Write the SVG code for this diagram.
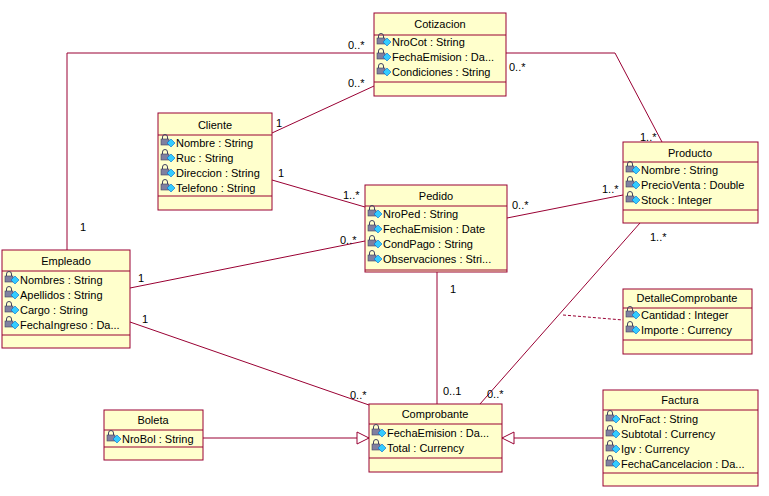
<svg xmlns="http://www.w3.org/2000/svg" width="769" height="496" viewBox="0 0 769 496">
<style>
.b{fill:#ffffcc;stroke:#990033;stroke-width:1}
.t{font-family:"Liberation Sans",Arial,sans-serif;font-size:11px;fill:#000}
.c{text-anchor:middle}
.l{stroke:#990033;fill:none;stroke-width:1}
</style>
<defs>
<g id="i"><rect x="0" y="-8" width="8" height="6" fill="#8080a0" stroke="#404060" stroke-width="0.6"/><path d="M1.5,-8v-2a2.5,2.5 0 0 1 5,0v2" fill="none" stroke="#404060"/><path d="M10,-8l4,4l-4,4l-4,-4z" fill="#33ccff" stroke="#0066cc" stroke-width="0.6"/></g>
<marker id="g" markerWidth="14" markerHeight="14" refX="13" refY="7" orient="auto" markerUnits="userSpaceOnUse"><path d="M1,1L13,7L1,13z" fill="#fff" stroke="#990033"/></marker>
</defs>
<rect width="769" height="496" fill="#fff"/>
<g id="connectors">
<polyline class="l" points="67,250 67,53 374,53"/>
<line class="l" x1="272" y1="133" x2="374" y2="86"/>
<polyline class="l" points="506,53 615,53 662,142"/>
<line class="l" x1="272" y1="180" x2="365" y2="207"/>
<line class="l" x1="130" y1="288" x2="365" y2="241"/>
<line class="l" x1="507" y1="218" x2="623" y2="195"/>
<line class="l" x1="130" y1="322" x2="369" y2="405"/>
<line class="l" x1="437" y1="272" x2="437" y2="404"/>
<line class="l" x1="640" y1="223" x2="480" y2="404"/>
<line class="l" x1="563" y1="315" x2="623" y2="320" stroke-dasharray="3,2"/>
<line class="l" x1="203" y1="438" x2="369" y2="438" marker-end="url(#g)"/>
<line class="l" x1="603" y1="438" x2="502" y2="438" marker-end="url(#g)"/>
<g class="t">
<text x="80" y="231">1</text><text x="348" y="49">0..*</text>
<text x="276" y="127">1</text><text x="348" y="87">0..*</text>
<text x="509" y="71">0..*</text><text x="640" y="141">1..*</text>
<text x="278" y="177">1</text><text x="343" y="199">1..*</text>
<text x="138" y="282">1</text><text x="340" y="244">0..*</text>
<text x="512" y="209">0..*</text><text x="602" y="193">1..*</text>
<text x="142" y="323">1</text><text x="350" y="399">0..*</text>
<text x="450" y="293">1</text><text x="443" y="395">0..1</text>
<text x="650" y="241">1..*</text><text x="487" y="398">0..*</text>
</g>
</g>
<g id="Cotizacion"><rect class="b" x="374" y="13" width="132" height="83"/><line class="l" x1="374" y1="35" x2="506" y2="35"/><line class="l" x1="374" y1="82" x2="506" y2="82"/>
<text class="t c" x="440" y="28">Cotizacion</text>
<use href="#i" x="377" y="46"/><text class="t" x="392" y="46">NroCot : String</text>
<use href="#i" x="377" y="61"/><text class="t" x="392" y="61">FechaEmision : Da...</text>
<use href="#i" x="377" y="76"/><text class="t" x="392" y="76">Condiciones : String</text></g>
<g id="Cliente"><rect class="b" x="158" y="113" width="114" height="97"/><line class="l" x1="158" y1="135" x2="272" y2="135"/><line class="l" x1="158" y1="196" x2="272" y2="196"/>
<text class="t c" x="215" y="129">Cliente</text>
<use href="#i" x="161" y="147"/><text class="t" x="176" y="147">Nombre : String</text>
<use href="#i" x="161" y="162"/><text class="t" x="176" y="162">Ruc : String</text>
<use href="#i" x="161" y="177"/><text class="t" x="176" y="177">Direccion : String</text>
<use href="#i" x="161" y="192"/><text class="t" x="176" y="192">Telefono : String</text></g>
<g id="Pedido"><rect class="b" x="365" y="185" width="142" height="87"/><line class="l" x1="365" y1="206" x2="507" y2="206"/><line class="l" x1="365" y1="270" x2="507" y2="270"/>
<text class="t c" x="436" y="200">Pedido</text>
<use href="#i" x="368" y="218"/><text class="t" x="383" y="218">NroPed : String</text>
<use href="#i" x="368" y="233"/><text class="t" x="383" y="233">FechaEmision : Date</text>
<use href="#i" x="368" y="248"/><text class="t" x="383" y="248">CondPago : String</text>
<use href="#i" x="368" y="263"/><text class="t" x="383" y="263">Observaciones : Stri...</text></g>
<g id="Producto"><rect class="b" x="623" y="142" width="135" height="81"/><line class="l" x1="623" y1="162" x2="758" y2="162"/><line class="l" x1="623" y1="210" x2="758" y2="210"/>
<text class="t c" x="690" y="157">Producto</text>
<use href="#i" x="626" y="174"/><text class="t" x="641" y="174">Nombre : String</text>
<use href="#i" x="626" y="189"/><text class="t" x="641" y="189">PrecioVenta : Double</text>
<use href="#i" x="626" y="204"/><text class="t" x="641" y="204">Stock : Integer</text></g>
<g id="Empleado"><rect class="b" x="2" y="250" width="128" height="98"/><line class="l" x1="2" y1="271" x2="130" y2="271"/><line class="l" x1="2" y1="335" x2="130" y2="335"/>
<text class="t c" x="66" y="265">Empleado</text>
<use href="#i" x="5" y="284"/><text class="t" x="20" y="284">Nombres : String</text>
<use href="#i" x="5" y="299"/><text class="t" x="20" y="299">Apellidos : String</text>
<use href="#i" x="5" y="314"/><text class="t" x="20" y="314">Cargo : String</text>
<use href="#i" x="5" y="329"/><text class="t" x="20" y="329">FechaIngreso : Da...</text></g>
<g id="DetalleComprobante"><rect class="b" x="623" y="289" width="129" height="65"/><line class="l" x1="623" y1="308" x2="752" y2="308"/><line class="l" x1="623" y1="340" x2="752" y2="340"/>
<text class="t c" x="687" y="302">DetalleComprobante</text>
<use href="#i" x="626" y="319"/><text class="t" x="641" y="319">Cantidad : Integer</text>
<use href="#i" x="626" y="334"/><text class="t" x="641" y="334">Importe : Currency</text></g>
<g id="Boleta"><rect class="b" x="104" y="410" width="99" height="50"/><line class="l" x1="104" y1="430" x2="203" y2="430"/><line class="l" x1="104" y1="447" x2="203" y2="447"/>
<text class="t c" x="153" y="424">Boleta</text>
<use href="#i" x="107" y="443"/><text class="t" x="122" y="443">NroBol : String</text></g>
<g id="Comprobante"><rect class="b" x="369" y="404" width="133" height="68"/><line class="l" x1="369" y1="424" x2="502" y2="424"/><line class="l" x1="369" y1="458" x2="502" y2="458"/>
<text class="t c" x="435" y="418">Comprobante</text>
<use href="#i" x="372" y="437"/><text class="t" x="387" y="437">FechaEmision : Da...</text>
<use href="#i" x="372" y="452"/><text class="t" x="387" y="452">Total : Currency</text></g>
<g id="Factura"><rect class="b" x="603" y="390" width="155" height="96"/><line class="l" x1="603" y1="410" x2="758" y2="410"/><line class="l" x1="603" y1="473" x2="758" y2="473"/>
<text class="t c" x="680" y="404">Factura</text>
<use href="#i" x="606" y="423"/><text class="t" x="621" y="423">NroFact : String</text>
<use href="#i" x="606" y="438"/><text class="t" x="621" y="438">Subtotal : Currency</text>
<use href="#i" x="606" y="453"/><text class="t" x="621" y="453">Igv : Currency</text>
<use href="#i" x="606" y="468"/><text class="t" x="621" y="468">FechaCancelacion : Da...</text></g>
</svg>
